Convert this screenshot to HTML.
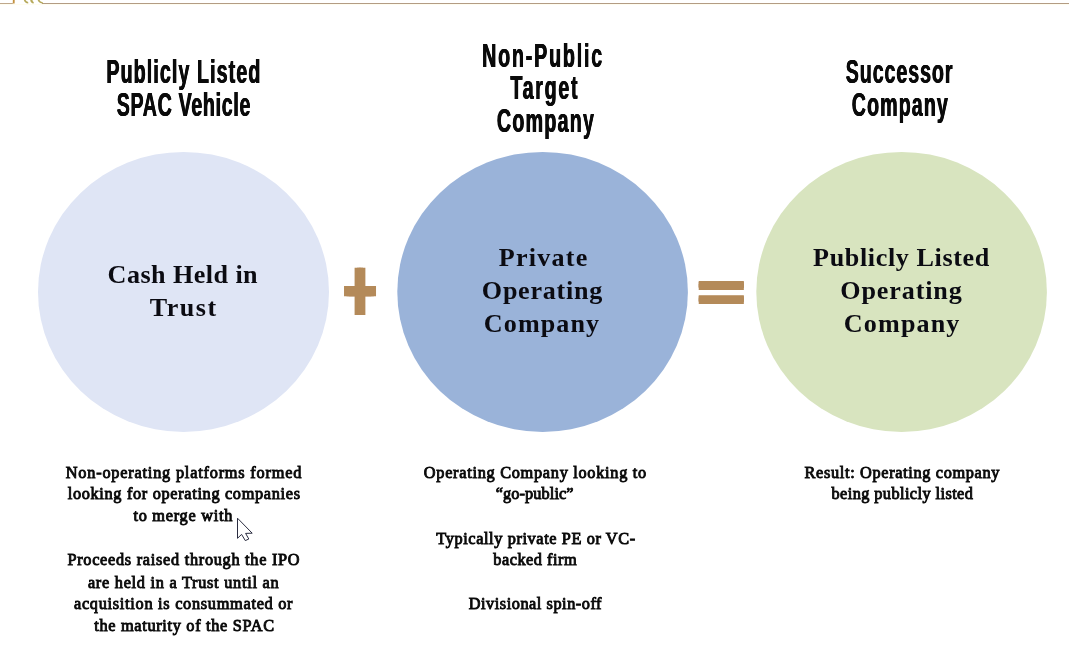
<!DOCTYPE html>
<html lang="en">
<head>
<meta charset="utf-8">
<title>SPAC structure</title>
<style>
html,body{margin:0;padding:0;background:#fff;}
body{width:1069px;height:656px;overflow:hidden;position:relative;}
svg{display:block;position:absolute;left:0;top:0;will-change:transform;}
.h{font-family:"Liberation Sans", "DejaVu Sans", sans-serif;font-weight:700;font-size:33.8px;fill:#0a0a0a;stroke:#0a0a0a;stroke-width:0px;stroke-linejoin:round;text-shadow:0.45px 0 0 #0a0a0a,-0.45px 0 0 #0a0a0a;}
.op{font-family:"Liberation Sans", "DejaVu Sans", sans-serif;font-weight:700;fill:#b48a59;}
.c{font-family:"Liberation Serif", "DejaVu Serif", serif;font-weight:700;font-size:26.1px;fill:#0b0b12;}
.b{font-family:"Liberation Serif", "DejaVu Serif", serif;font-weight:400;font-size:16.3px;fill:#0a0a0a;stroke:#0a0a0a;stroke-width:0.9px;}
</style>
</head>
<body>
<svg width="1069" height="656" viewBox="0 0 1069 656">
<rect x="0" y="0" width="1069" height="656" fill="#ffffff"/>
<!-- top rule with logo fragments -->
<g id="toprule">
<rect x="0" y="4" width="1069" height="1" fill="#fffdf0"/>
<rect x="0" y="3" width="12.8" height="1" fill="#bfa88c"/>
<rect x="42" y="3" width="1027" height="1" fill="#b39c84"/>
<path d="M12.9 0 L14.7 0 L14.6 3.5 L12.7 3.5 Z" fill="#c4923f"/>
<path d="M23.8 0 L25.6 0 Q26.2 1.5 28.2 2.1 L28.2 3.5 Q24.8 3.3 23.8 0 Z" fill="#a99a3d" fill-opacity="0.85"/>
<path d="M30.2 0 L32.4 0 Q32.6 1.4 33.8 2.3 L33.6 3.5 Q30.6 3.3 30.2 0 Z" fill="#a99a3d" fill-opacity="0.85"/>
<path d="M37.6 0 L39.4 0 Q40.2 1.7 42.8 2.3 L42.8 3.5 Q38.8 3.3 37.6 0 Z" fill="#a99a3d" fill-opacity="0.85"/>
</g>
<!-- circles -->
<ellipse cx="183.5" cy="291.9" rx="145.5" ry="140" fill="#dfe5f5"/>
<ellipse cx="542.6" cy="291.9" rx="145.3" ry="140" fill="#9ab3d9"/>
<ellipse cx="901.6" cy="291.9" rx="145.3" ry="140" fill="#d8e4bf"/>
<!-- operators -->
<text id="plus" class="op" transform="translate(344.20 321.83) scale(0.5850 1)" style="font-size:92.9px;text-shadow:3.27px 0 0 #b48a59,-3.27px 0 0 #b48a59;">+</text>
<text id="equals" class="op" transform="translate(695.02 310.20) scale(1 0.5884)" style="font-size:90px;text-shadow:0 2.00px 0 #b48a59,0 -2.00px 0 #b48a59;">=</text>
<!-- headings -->
<text id="h0" class="h" transform="translate(106.40 82.70) scale(0.58 1)" textLength="265.38" lengthAdjust="spacing">Publicly Listed</text>
<text id="h1" class="h" transform="translate(116.70 115.50) scale(0.58 1)" textLength="230.45" lengthAdjust="spacing">SPAC Vehicle</text>
<text id="h2" class="h" transform="translate(482.14 66.60) scale(0.58 1)" textLength="207.00" lengthAdjust="spacing">Non-Public</text>
<text id="h3" class="h" transform="translate(510.40 99.30) scale(0.58 1)" textLength="115.69" lengthAdjust="spacing">Target</text>
<text id="h4" class="h" transform="translate(496.94 132.40) scale(0.58 1)" textLength="167.17" lengthAdjust="spacing">Company</text>
<text id="h5" class="h" transform="translate(845.76 83.00) scale(0.58 1)" textLength="184.03" lengthAdjust="spacing">Successor</text>
<text id="h6" class="h" transform="translate(851.80 115.50) scale(0.58 1)" textLength="165.52" lengthAdjust="spacing">Company</text>
<!-- circle labels -->
<text id="c0" class="c" x="107.60" y="283.00" textLength="150.02" lengthAdjust="spacing">Cash Held in</text>
<text id="c1" class="c" x="149.76" y="316.00" textLength="66.44" lengthAdjust="spacing">Trust</text>
<text id="c2" class="c" x="498.80" y="266.00" textLength="88.52" lengthAdjust="spacing">Private</text>
<text id="c3" class="c" x="481.86" y="299.00" textLength="120.34" lengthAdjust="spacing">Operating</text>
<text id="c4" class="c" x="483.86" y="332.00" textLength="115.14" lengthAdjust="spacing">Company</text>
<text id="c5" class="c" x="813.10" y="266.00" textLength="176.20" lengthAdjust="spacing">Publicly Listed</text>
<text id="c6" class="c" x="840.34" y="299.00" textLength="121.44" lengthAdjust="spacing">Operating</text>
<text id="c7" class="c" x="843.86" y="332.00" textLength="115.56" lengthAdjust="spacing">Company</text>
<!-- descriptions -->
<text id="b0" class="b" x="65.76" y="478.00" textLength="235.54" lengthAdjust="spacing">Non-operating platforms formed</text>
<text id="b1" class="b" x="67.70" y="499.00" textLength="232.30" lengthAdjust="spacing">looking for operating companies</text>
<text id="b2" class="b" x="133.40" y="521.00" textLength="99.00" lengthAdjust="spacing">to merge with</text>
<text id="b3" class="b" x="67.40" y="565.00" textLength="232.20" lengthAdjust="spacing">Proceeds raised through the IPO</text>
<text id="b4" class="b" x="87.90" y="588.00" textLength="190.70" lengthAdjust="spacing">are held in a Trust until an</text>
<text id="b5" class="b" x="73.94" y="609.00" textLength="218.56" lengthAdjust="spacing">acquisition is consummated or</text>
<text id="b6" class="b" x="94.20" y="631.00" textLength="179.86" lengthAdjust="spacing">the maturity of the SPAC</text>
<text id="b7" class="b" x="423.80" y="478.00" textLength="222.40" lengthAdjust="spacing">Operating Company looking to</text>
<text id="b8" class="b" x="495.76" y="499.00" textLength="77.82" lengthAdjust="spacing">“go-public”</text>
<text id="b9" class="b" x="436.30" y="544.00" textLength="198.76" lengthAdjust="spacing">Typically private PE or VC-</text>
<text id="b10" class="b" x="493.30" y="565.00" textLength="83.40" lengthAdjust="spacing">backed firm</text>
<text id="b11" class="b" x="468.70" y="609.00" textLength="132.84" lengthAdjust="spacing">Divisional spin-off</text>
<text id="b12" class="b" x="804.58" y="478.00" textLength="194.82" lengthAdjust="spacing">Result: Operating company</text>
<text id="b13" class="b" x="831.50" y="499.00" textLength="141.40" lengthAdjust="spacing">being publicly listed</text>
<!-- mouse pointer -->
<path id="cursor" d="M237.5 518.2 L237.5 538.3 L241.6 534.4 L245.3 540.6 L248.8 539 L245.6 533.4 L252.2 533.2 Z" fill="#ffffff" stroke="#2a2c40" stroke-width="1" stroke-linejoin="miter"/>
</svg>
</body>
</html>
